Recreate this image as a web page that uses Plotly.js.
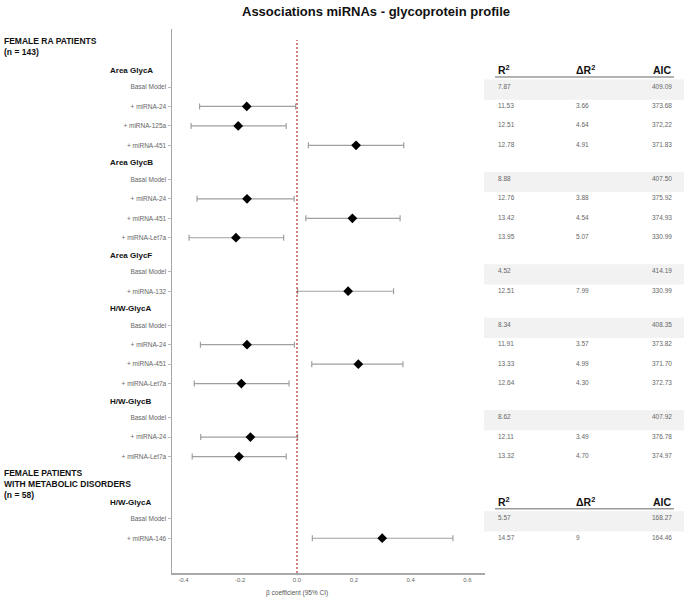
<!DOCTYPE html>
<html>
<head>
<meta charset="utf-8">
<script src="https://cdn.plot.ly/plotly-3.0.1.min.js"></script>
<style>html,body{margin:0;padding:0;background:#fff;}#chart{width:685px;height:597px;}</style>
</head>
<body>
<div id="chart"></div>
<script>
// ---- data ----
var sectionNames = ["FEMALE RA PATIENTS<br>(n = 143)", "FEMALE PATIENTS<br>WITH METABOLIC DISORDERS<br>(n = 58)"];
var groupNames = ["Area GlycA", "Area GlycB", "Area GlycF", "H/W-GlycA", "H/W-GlycB", "H/W-GlycA"];
var groupSection = [0, 0, 0, 0, 0, 1];
var rowGroup = [0,0,0,0, 1,1,1,1, 2,2, 3,3,3,3, 4,4,4, 5,5];
var rowLabels = ["Basal Model","+ miRNA-24","+ miRNA-125a","+ miRNA-451",
  "Basal Model","+ miRNA-24","+ miRNA-451","+ miRNA-Let7a",
  "Basal Model","+ miRNA-132",
  "Basal Model","+ miRNA-24","+ miRNA-451","+ miRNA-Let7a",
  "Basal Model","+ miRNA-24","+ miRNA-Let7a",
  "Basal Model","+ miRNA-146"];
var beta   = [null,-0.177,-0.207,0.208, null,-0.176,0.195,-0.215, null,0.180, null,-0.176,0.216,-0.196, null,-0.164,-0.204, null,0.300];
var ciLow  = [null,-0.343,-0.373,0.040, null,-0.352,0.031,-0.380, null,0.002, null,-0.340,0.052,-0.362, null,-0.339,-0.369, null,0.054];
var ciHigh = [null,-0.005,-0.038,0.376, null,-0.010,0.363,-0.047, null,0.340, null,-0.009,0.373,-0.028, null,0.002,-0.038, null,0.549];
var r2  = ["7.87","11.53","12.51","12.78", "8.88","12.76","13.42","13.95", "4.52","12.51", "8.34","11.91","13.33","12.64", "8.62","12.11","13.32", "5.57","14.57"];
var dr2 = ["","3.66","4.64","4.91", "","3.88","4.54","5.07", "","7.99", "","3.57","4.99","4.30", "","3.49","4.70", "","9"];
var aic = ["409.09","373.68","372,22","371.83", "407.50","375.92","374.93","330.99", "414.19","330.99", "408.35","373.82","371.70","372.73", "407.92","376.78","374.97", "168.27","164.46"];
var tableHeaders = ["R<sup>2</sup>", "ΔR<sup>2</sup>", "AIC"];
var xTicks = [-0.4, -0.2, 0.0, 0.2, 0.4, 0.6];

// ---- layout helpers ----
var W = 685, H = 597, ML = 172, MR = 0, MT = 29, MB = 24;
var PW = W - ML - MR, PH = H - MT - MB;
function px(x){ return (x - ML) / PW; }
function py(y){ return 1 - (y - MT) / PH; }

// row positions (in row units), computed from group structure
var rowPos = [], groupPos = [];
var u = 0;
for (var i = 0; i < rowLabels.length; i++) {
  if (i > 0) {
    if (rowGroup[i] !== rowGroup[i-1]) {
      u += (groupSection[rowGroup[i]] !== groupSection[rowGroup[i-1]]) ? 3.2 : 1.75;
    } else u += 1;
  }
  rowPos.push(u);
  if (i === 0 || rowGroup[i] !== rowGroup[i-1]) groupPos.push(u - 0.85);
}
var rowPx = 19.45, firstRowPy = 87;
var yRange = [(MT + PH - firstRowPy) / rowPx, (MT - firstRowPy) / rowPx];

var errPlus = beta.map(function(b, i){ return b === null ? null : ciHigh[i] - b; });
var errMinus = beta.map(function(b, i){ return b === null ? null : b - ciLow[i]; });

var trace = {
  type: 'scatter', mode: 'markers',
  x: beta, y: rowPos,
  marker: {symbol: 'diamond', size: 7.5, color: '#000'},
  error_x: {type: 'data', symmetric: false, array: errPlus, arrayminus: errMinus,
            color: '#a0a0a0', thickness: 1.2, width: 3},
  hoverinfo: 'skip', showlegend: false, cliponaxis: false
};

var FONT = 'Arial, "Liberation Sans", sans-serif';
var annotations = [], shapes = [];

// group headers
groupNames.forEach(function(g, gi){
  annotations.push({text: '<b>' + g + '</b>', xref: 'paper', yref: 'y', x: px(108), y: groupPos[gi],
    xanchor: 'left', yanchor: 'middle', showarrow: false, font: {family: FONT, size: 8, color: '#111'}});
});
// section labels
annotations.push({text: '<b>' + sectionNames[0] + '</b>', xref: 'paper', yref: 'paper', x: px(2), y: py(46.5),
  xanchor: 'left', yanchor: 'middle', align: 'left', showarrow: false, font: {family: FONT, size: 8.5, color: '#111'}});
annotations.push({text: '<b>' + sectionNames[1] + '</b>', xref: 'paper', yref: 'paper', x: px(2), y: py(483.7),
  xanchor: 'left', yanchor: 'middle', align: 'left', showarrow: false, font: {family: FONT, size: 8.5, color: '#111'}});

// table headers at the first group of each section
var colX = [495.7, 574, 674];
var colAnchor = ['left', 'left', 'right'];
groupNames.forEach(function(g, gi){
  if (gi === 0 || groupSection[gi] !== groupSection[gi-1]) {
    tableHeaders.forEach(function(h, hi){
      annotations.push({text: '<b>' + h + '</b>', xref: 'paper', yref: 'y', x: px(colX[hi]), y: groupPos[gi] + 0.38,
        xanchor: colAnchor[hi], yanchor: 'bottom', showarrow: false, font: {family: FONT, size: 10.5, color: '#111'}});
    });
    shapes.push({type: 'line', xref: 'paper', yref: 'y', x0: px(495), x1: px(674),
      y0: groupPos[gi] + 0.33, y1: groupPos[gi] + 0.33, line: {color: '#9a9a9a', width: 1.5}});
  }
});

// table rows
rowLabels.forEach(function(lab, i){
  if (dr2[i] === '') {
    shapes.push({type: 'rect', xref: 'paper', yref: 'y', x0: px(484), x1: px(684),
      y0: rowPos[i] - 0.39, y1: rowPos[i] + 0.65, fillcolor: '#f2f2f2', line: {width: 0}, layer: 'below'});
  }
  var vals = [r2[i], dr2[i], aic[i]];
  vals.forEach(function(v, ci){
    if (v === '') return;
    annotations.push({text: v, xref: 'paper', yref: 'y', x: px(colX[ci]), y: rowPos[i] - 0.05,
      xanchor: colAnchor[ci], yanchor: 'middle', showarrow: false, font: {family: FONT, size: 6.5, color: '#666'}});
  });
});

// x axis title
annotations.push({text: 'β coefficient (95% CI)', xref: 'x', yref: 'paper', x: 0, y: py(593.3),
  xanchor: 'center', yanchor: 'middle', showarrow: false, font: {family: FONT, size: 6.5, color: '#555'}});

// reference line at 0
shapes.push({type: 'line', xref: 'x', yref: 'paper', x0: 0, x1: 0, y0: 0, y1: py(40),
  line: {color: '#b5322c', width: 1.2, dash: '2px,2px'}});

var xr = [(ML - 297) / 284, (485 - 297) / 284];

var layout = {
  width: W, height: H,
  margin: {l: ML, r: MR, t: MT, b: MB, pad: 0},
  paper_bgcolor: '#fff', plot_bgcolor: '#fff',
  title: {text: '<b>Associations miRNAs - glycoprotein profile</b>', xref: 'container', yref: 'container',
          x: 376 / W, y: 1 - 11 / H, xanchor: 'center', yanchor: 'middle',
          font: {family: FONT, size: 13, color: '#111'}},
  xaxis: {domain: [0, (485 - ML) / PW], range: xr, autorange: false,
          tickvals: xTicks, ticktext: xTicks.map(function(v){ return v.toFixed(1); }),
          showgrid: false, zeroline: false, showline: true, linecolor: '#a8a8a8', linewidth: 1.5,
          ticks: '', tickfont: {family: FONT, size: 6, color: '#666'}, fixedrange: true},
  yaxis: {range: yRange, autorange: false, tickvals: rowPos, ticktext: rowLabels,
          showgrid: false, zeroline: false, showline: true, linecolor: '#a8a8a8', linewidth: 1.5,
          ticks: 'outside', ticklen: 3, tickcolor: '#bbb', tickwidth: 1,
          tickfont: {family: FONT, size: 6.5, color: '#666'}, fixedrange: true},
  annotations: annotations,
  shapes: shapes,
  hovermode: false
};

Plotly.newPlot('chart', [trace], layout, {displayModeBar: false, staticPlot: true});
</script>
</body>
</html>
